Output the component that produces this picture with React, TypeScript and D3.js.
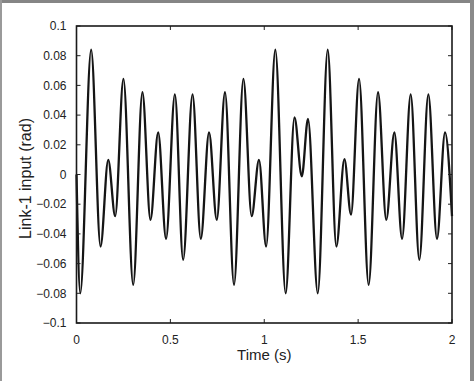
import React from 'react';
import * as d3 from 'd3';

// peaks and troughs (time in s, angle in rad)
const times = [
  0, 0.02, 0.078, 0.128, 0.169, 0.206, 0.25, 0.302, 0.351, 0.394, 0.435, 0.477,
  0.524, 0.568, 0.618, 0.662, 0.706, 0.747, 0.791, 0.839, 0.889, 0.933, 0.972,
  1.01, 1.059, 1.114, 1.161, 1.2, 1.233, 1.285, 1.338, 1.384, 1.427, 1.462, 1.505,
  1.556, 1.606, 1.65, 1.693, 1.734, 1.78, 1.826, 1.874, 1.92, 1.963, 2.0,
];
const values = [
  0, -0.08, 0.084, -0.0485, 0.0099, -0.028, 0.0644, -0.0743, 0.0554, -0.0305,
  0.0283, -0.0433, 0.054, -0.0575, 0.054, -0.0433, 0.0283, -0.0305, 0.0554,
  -0.0743, 0.0644, -0.028, 0.0099, -0.0485, 0.084, -0.08, 0.0384, -0.0013,
  0.0375, -0.08, 0.084, -0.0485, 0.0103, -0.027, 0.0644, -0.0743, 0.0554,
  -0.0305, 0.0283, -0.0433, 0.054, -0.0575, 0.054, -0.0433, 0.0283, -0.028,
];
const xTicks = [0, 0.5, 1, 1.5, 2];
const yTicks = [-0.1, -0.08, -0.06, -0.04, -0.02, 0, 0.02, 0.04, 0.06, 0.08, 0.1];

const W = 474;
const H = 381;
const m = { left: 76.5, right: 452, top: 26, bottom: 323 };
const font = 'Liberation Sans, Arial, sans-serif';

export default function App() {
  const x = d3.scaleLinear().domain([0, 2]).range([m.left, m.right]);
  const y = d3.scaleLinear().domain([-0.1, 0.1]).range([m.bottom, m.top]);
  const pts: [number, number][] = times.map((t, i) => [t, values[i]]);
  const line = d3
    .line<[number, number]>()
    .x((d) => x(d[0]))
    .y((d) => y(d[1]))
    .curve(d3.curveMonotoneX);
  const tl = 4;

  return (
    <svg
      width={W}
      height={H}
      style={{ position: 'absolute', left: 0, top: 0, background: '#fff' }}
    >
      {/* grey frame of the screenshot */}
      <rect x={0} y={0} width={W} height={3} fill="#858585" />
      <rect x={0} y={0} width={2} height={H} fill="#9a9a9a" />
      <rect x={470} y={0} width={4} height={H} fill="#8a8a8a" />

      <path d={line(pts) || ''} fill="none" stroke="#151515" strokeWidth={2.3} />

      {/* ticks, pointing inward on all four sides */}
      <g stroke="#222" strokeWidth={1}>
        {xTicks.map((t) => (
          <g key={'x' + t}>
            <line x1={x(t)} x2={x(t)} y1={m.bottom} y2={m.bottom - tl} />
            <line x1={x(t)} x2={x(t)} y1={m.top} y2={m.top + tl} />
          </g>
        ))}
        {yTicks.map((t) => (
          <g key={'y' + t}>
            <line x1={m.left} x2={m.left + tl} y1={y(t)} y2={y(t)} />
            <line x1={m.right} x2={m.right - tl} y1={y(t)} y2={y(t)} />
          </g>
        ))}
      </g>
      <rect
        x={m.left}
        y={m.top}
        width={m.right - m.left}
        height={m.bottom - m.top}
        fill="none"
        stroke="#1a1a1a"
        strokeWidth={1.6}
      />

      <g fontFamily={font} fontSize={12} fill="#222">
        {yTicks.map((t) => (
          <text key={'yl' + t} x={m.left - 10} y={y(t)} dy="0.35em" textAnchor="end">
            {d3.format('')(+t.toFixed(2))}
          </text>
        ))}
        {xTicks.map((t) => (
          <text key={'xl' + t} x={x(t)} y={344} textAnchor="middle">
            {t}
          </text>
        ))}
      </g>
      <text
        x={(m.left + m.right) / 2}
        y={360}
        textAnchor="middle"
        fontFamily={font}
        fontSize={15}
        fill="#222"
      >
        Time (s)
      </text>
      <text
        transform={`translate(31,${(m.top + m.bottom) / 2 + 4}) rotate(-90)`}
        textAnchor="middle"
        fontFamily={font}
        fontSize={16}
        fill="#222"
      >
        Link-1 input (rad)
      </text>
    </svg>
  );
}
